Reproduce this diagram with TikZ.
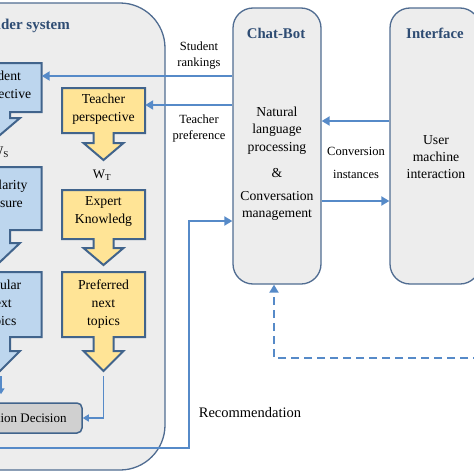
\documentclass[tikz,border=0pt]{standalone}
\usepackage{fontspec}
\setmainfont{Liberation Serif}
\usetikzlibrary{arrows.meta}
\definecolor{arrowblue}{RGB}{86,138,200}
\definecolor{boxborder}{RGB}{65,100,140}
\definecolor{panelfill}{RGB}{237,237,237}
\definecolor{panelborder}{RGB}{80,108,145}
\definecolor{yellowfill}{RGB}{255,228,150}
\definecolor{bluefill}{RGB}{189,214,238}
\definecolor{grayfill}{RGB}{208,208,208}
\definecolor{titleblue}{RGB}{46,76,115}
\newcommand{\dcallout}[6]{%
  \draw[#1] ({#2-41.5},#3) -- ({#2+41.5},#3) -- ({#2+41.5},#4) -- ({#2+10},#4) -- ({#2+10},#5) -- ({#2+20},#5) -- (#2,#6) -- ({#2-20},#5) -- ({#2-10},#5) -- ({#2-10},#4) -- ({#2-41.5},#4) -- cycle;}
\begin{document}
\begin{tikzpicture}[x=1pt,y=-1pt,
  panel/.style={draw=panelborder, fill=panelfill, line width=1.3pt, rounded corners=20pt, inner sep=0pt},
  txt/.style={font=\fontsize{13.7}{18}\selectfont, align=center, inner sep=0pt},
  lbl/.style={font=\fontsize{12.5}{16}\selectfont, align=center, inner sep=0pt},
  ttl/.style={font=\bfseries\fontsize{14.8}{18}\selectfont, text=titleblue, inner sep=0pt},
  arr/.style={draw=arrowblue, line width=2.2pt, -{Triangle[length=8pt,width=9pt]}},
  thinarr/.style={draw=arrowblue, line width=1.6pt, -{Triangle[length=6pt,width=7pt]}},
  ycall/.style={draw=boxborder, fill=yellowfill, line width=2pt, line join=miter},
  bcall/.style={draw=boxborder, fill=bluefill, line width=2pt, line join=miter},
  boxtext/.style={txt, minimum width=83pt}
]
\useasboundingbox (0,0) rectangle (474,474);
\clip (0,0) rectangle (474,474);

% containers
\node[panel, rounded corners=45pt, minimum width=335pt, minimum height=467pt] (recsys) at (-2.5,236.5) {};
\node[ttl, anchor=east, font=\bfseries\fontsize{15}{18}\selectfont] (recttl) at (70,26) {Recommender system};
\node[panel, minimum width=88pt, minimum height=276pt] (chatbot) at (277,146) {};
\node[ttl] (cbttl) at (276,33) {Chat-Bot};
\node[panel, minimum width=90pt, minimum height=276pt] (interface) at (435,146) {};
\node[ttl] (ifttl) at (435,33) {Interface};

% chat-bot text
\node[txt, font=\fontsize{13.7}{17.5}\selectfont] (nlp) at (277,130.5) {Natural\\language\\processing};
\node[txt] (amp) at (277,173) {\&};
\node[txt, font=\fontsize{13.7}{17.5}\selectfont] (cm) at (277,206) {Conversation\\management};
\node[txt, font=\fontsize{13.7}{17}\selectfont] (umi) at (436,157) {User\\machine\\interaction};

% callouts
\dcallout{bcall}{0}{63}{112}{118}{135}
\dcallout{bcall}{0}{167}{230}{243}{262}
\dcallout{bcall}{0}{272}{337}{351}{371}
\dcallout{ycall}{103.5}{88}{133}{143}{160}
\dcallout{ycall}{103.5}{190}{239}{248}{265}
\dcallout{ycall}{103.5}{272}{337}{351}{371}

\node[boxtext] (student) at (0,86) {Student\\perspective};
\node[boxtext] (teacher) at (103.5,109) {Teacher\\perspective};
\node[boxtext] (sim) at (0,194) {Similarity\\measure};
\node[boxtext] (expert) at (103.5,211.5) {Expert\\Knowledg};
\node[boxtext] (popular) at (0,304) {Popular\\next\\topics};
\node[boxtext] (preferred) at (103.5,304) {Preferred\\next\\topics};

\node[txt, font=\fontsize{13}{16}\selectfont] (ws) at (0,152) {W\textsubscript{S}};
\node[txt, font=\fontsize{13}{16}\selectfont] (wt) at (102,175) {W\textsubscript{T}};

\node[draw=boxborder, fill=grayfill, line width=1.5pt, rounded corners=5pt, minimum width=172pt, minimum height=30pt, inner sep=0pt, font=\fontsize{13}{16}\selectfont] (dec) at (-4,418) {Recommendation Decision};

\coordinate (ptip) at (103.5,371);
\coordinate (btip) at (1,371);

% labels
\node[lbl] (srlbl) at (199,56) {Student\\rankings};
\node[lbl] (tplbl) at (199,128) {Teacher\\preference};
\node[lbl, font=\fontsize{12.5}{23}\selectfont] (cilbl) at (356,162.5) {Conversion\\instances};
\node[txt, font=\fontsize{14.5}{18}\selectfont] (reclbl) at (250,413) {Recommendation};

% connector helper coordinates
\coordinate (ysr) at (0,76);
\coordinate (ytp) at (0,105);
\coordinate (yup) at (0,121);
\coordinate (ydn) at (0,201);
\coordinate (rc) at (189,448);
\coordinate (rin) at (0,221);
\coordinate (dstart) at (520,358);

% connectors
\draw[arr] (chatbot.west |- ysr) -- (student.east |- ysr);
\draw[arr] (chatbot.west |- ytp) -- (teacher.east |- ytp);
\draw[arr] (interface.west |- yup) -- (chatbot.east |- yup);
\draw[arr] (chatbot.east |- ydn) -- (interface.west |- ydn);
\draw[arr, line width=2pt] ([xshift=-46pt]dec.south) |- (rc) |- (chatbot.west |- rin);
\draw[thinarr] ([yshift=-5pt]ptip) |- (dec.east);
\draw[thinarr, shorten >=8pt] ([yshift=-5pt]btip) -- (btip |- dec.north);
\draw[arr, line width=2.3pt, dash pattern=on 8pt off 5pt] (dstart) -| ([xshift=-3pt]chatbot.south);
\end{tikzpicture}
\end{document}
